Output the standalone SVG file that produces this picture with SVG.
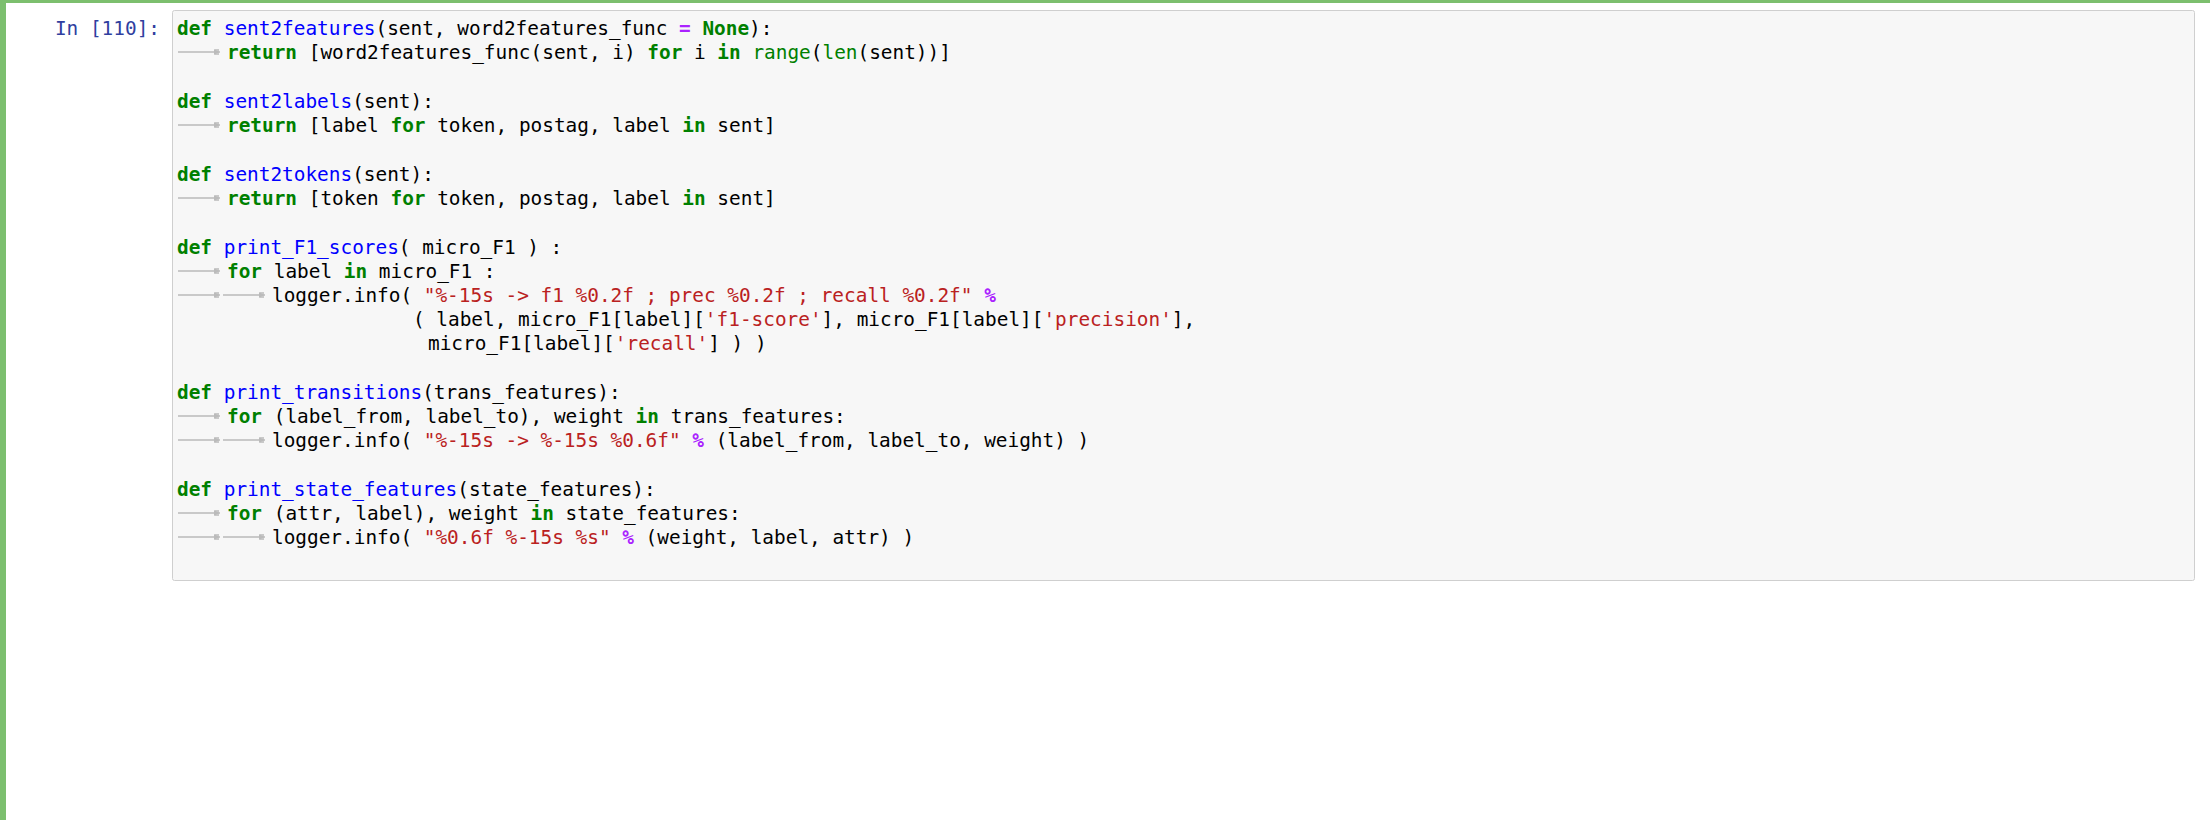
<svg xmlns="http://www.w3.org/2000/svg" width="2210" height="820" viewBox="0 0 2210 820">
<style>
text{font-family:"DejaVu Sans Mono","Liberation Mono",monospace;font-size:19.4px;fill:#000;white-space:pre}
.k{fill:#008000;font-weight:bold}
.f{fill:#0000ff}
.s{fill:#ba2121}
.o{fill:#aa22ff;font-weight:bold}
.b{fill:#008000}
.p{fill:#303f9f}
.tab{stroke:#bbb;stroke-width:1.5;fill:none}
</style>
<defs>
<g id="t"><path class="tab" d="M0 0H42M38 -3V3M40 -3V3"/><path d="M36 -3L41 0L36 3Z" fill="#bbb"/></g>
</defs>
<rect width="2210" height="820" fill="#fff"/>
<rect x="0" y="0" width="2210" height="3" fill="#7cbf6e"/>
<rect x="0" y="0" width="6" height="820" fill="#7cbf6e"/>
<g id="cell">
<rect x="172.5" y="10.5" width="2022" height="570" rx="2" fill="#f7f7f7" stroke="#cfcfcf"/>
<text class="p" x="160" y="35" text-anchor="end">In [110]:</text>
</g>
<g id="tabs">
<use href="#t" x="178" y="52"/>
<use href="#t" x="178" y="125"/>
<use href="#t" x="178" y="198"/>
<use href="#t" x="178" y="271"/>
<use href="#t" x="178" y="295"/><use href="#t" x="223" y="295"/>
<use href="#t" x="178" y="416"/>
<use href="#t" x="178" y="440"/><use href="#t" x="223" y="440"/>
<use href="#t" x="178" y="513"/>
<use href="#t" x="178" y="537"/><use href="#t" x="223" y="537"/>
</g>
<g id="code">
<text x="177" y="35"><tspan class="k">def</tspan> <tspan class="f">sent2features</tspan>(sent, word2features_func <tspan class="o">=</tspan> <tspan class="k">None</tspan>):</text>
<text x="227" y="59"><tspan class="k">return</tspan> [word2features_func(sent, i) <tspan class="k">for</tspan> i <tspan class="k">in</tspan> <tspan class="b">range</tspan>(<tspan class="b">len</tspan>(sent))]</text>
<text x="177" y="108"><tspan class="k">def</tspan> <tspan class="f">sent2labels</tspan>(sent):</text>
<text x="227" y="132"><tspan class="k">return</tspan> [label <tspan class="k">for</tspan> token, postag, label <tspan class="k">in</tspan> sent]</text>
<text x="177" y="181"><tspan class="k">def</tspan> <tspan class="f">sent2tokens</tspan>(sent):</text>
<text x="227" y="205"><tspan class="k">return</tspan> [token <tspan class="k">for</tspan> token, postag, label <tspan class="k">in</tspan> sent]</text>
<text x="177" y="254"><tspan class="k">def</tspan> <tspan class="f">print_F1_scores</tspan>( micro_F1 ) :</text>
<text x="227" y="278"><tspan class="k">for</tspan> label <tspan class="k">in</tspan> micro_F1 :</text>
<text x="272" y="302">logger.info( <tspan class="s">"%-15s -&gt; f1 %0.2f ; prec %0.2f ; recall %0.2f"</tspan> <tspan class="o">%</tspan></text>
<text x="413" y="326">( label, micro_F1[label][<tspan class="s">'f1-score'</tspan>], micro_F1[label][<tspan class="s">'precision'</tspan>],</text>
<text x="428" y="350">micro_F1[label][<tspan class="s">'recall'</tspan>] ) )</text>
<text x="177" y="399"><tspan class="k">def</tspan> <tspan class="f">print_transitions</tspan>(trans_features):</text>
<text x="227" y="423"><tspan class="k">for</tspan> (label_from, label_to), weight <tspan class="k">in</tspan> trans_features:</text>
<text x="272" y="447">logger.info( <tspan class="s">"%-15s -&gt; %-15s %0.6f"</tspan> <tspan class="o">%</tspan> (label_from, label_to, weight) )</text>
<text x="177" y="496"><tspan class="k">def</tspan> <tspan class="f">print_state_features</tspan>(state_features):</text>
<text x="227" y="520"><tspan class="k">for</tspan> (attr, label), weight <tspan class="k">in</tspan> state_features:</text>
<text x="272" y="544">logger.info( <tspan class="s">"%0.6f %-15s %s"</tspan> <tspan class="o">%</tspan> (weight, label, attr) )</text>
</g>
</svg>
